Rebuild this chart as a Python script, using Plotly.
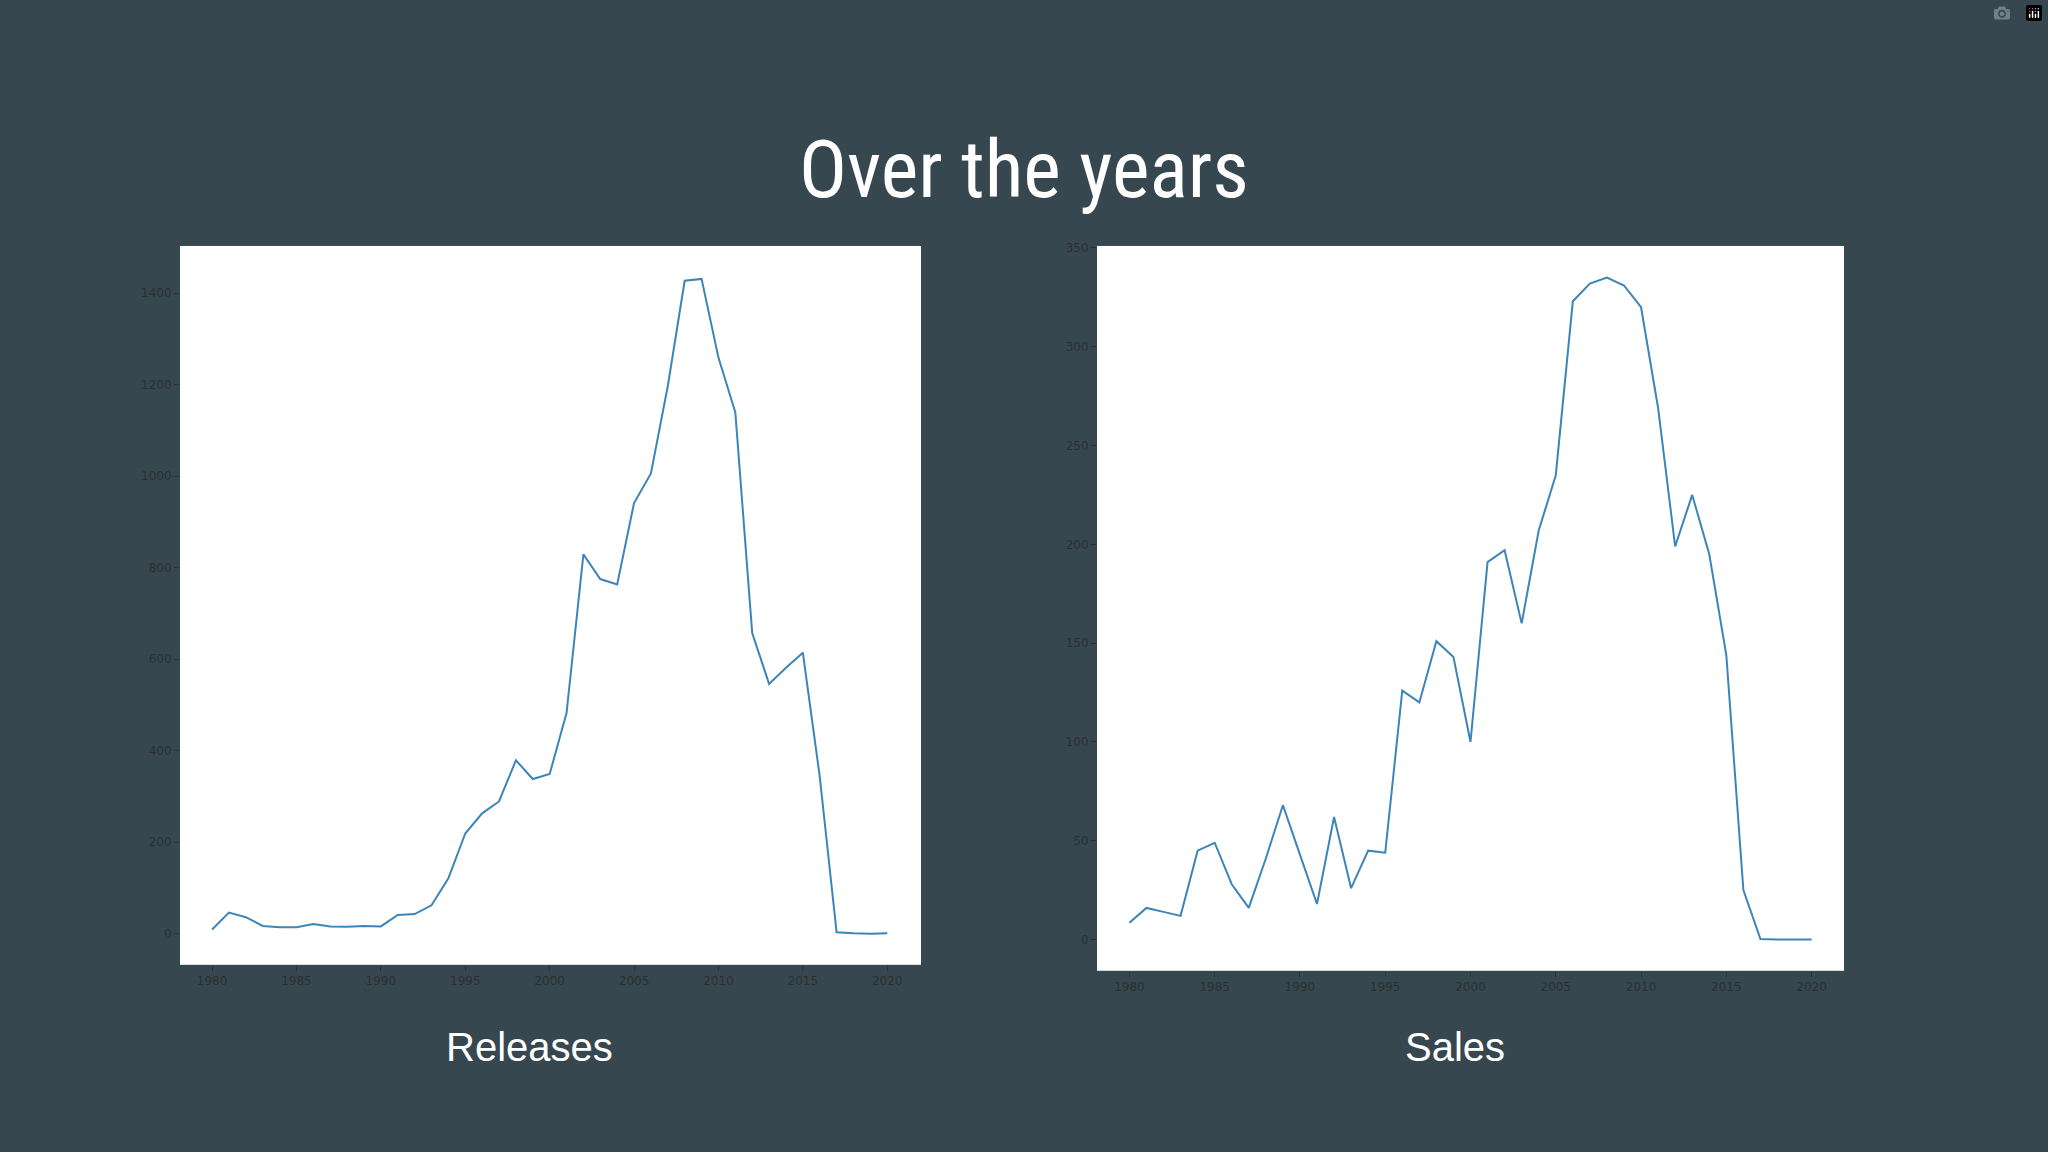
import plotly.graph_objects as go

years = list(range(1980, 2021))
releases = [9, 46, 36, 17, 14, 14, 21, 16, 15, 17, 16, 41, 43, 62, 121, 219, 263, 289, 379, 338,
            349, 482, 829, 775, 763, 941, 1006, 1197, 1427, 1431, 1259, 1139, 657, 546, 581, 614,
            344, 3, 1, 0, 1]
sales = [8.5, 16, 14, 12, 45, 49, 28, 16, 41, 68, 43, 18, 62, 26, 45, 44, 126, 120, 151, 143,
         100, 191, 197, 160, 207, 235, 323, 332, 335, 331, 320, 269, 199, 225, 195, 144,
         25, 0.3, 0, 0, 0]
xticks = [1980, 1985, 1990, 1995, 2000, 2005, 2010, 2015, 2020]

W, H = 2048, 1152
fig = go.Figure()
line = dict(color="#3d85b8", width=2)
fig.add_trace(go.Scatter(x=years, y=releases, mode="lines", line=line, xaxis="x", yaxis="y", showlegend=False))
fig.add_trace(go.Scatter(x=years, y=sales, mode="lines", line=line, xaxis="x2", yaxis="y2", showlegend=False))

tickfont = dict(family="DejaVu Sans", size=12, color="#2a2f33")
ax = dict(showgrid=False, zeroline=False, ticks="outside", ticklen=5, tickcolor="#2a2f33",
          tickfont=tickfont, showline=False, fixedrange=True)
fig.update_layout(
    width=W, height=H, paper_bgcolor="#37474f", plot_bgcolor="white",
    margin=dict(l=0, r=0, t=0, b=0),
    xaxis=dict(ax, domain=[180 / W, 921 / W], range=[1978.1, 2022.0], tickvals=xticks, anchor="y"),
    yaxis=dict(ax, domain=[1 - 964 / H, 1 - 242 / H], range=[-68, 1503],
               tickvals=[0, 200, 400, 600, 800, 1000, 1200, 1400], anchor="x"),
    xaxis2=dict(ax, domain=[1097 / W, 1844 / W], range=[1978.1, 2021.9], tickvals=xticks, anchor="y2"),
    yaxis2=dict(ax, domain=[1 - 970 / H, 1 - 242 / H], range=[-15.8, 351],
                tickvals=[0, 50, 100, 150, 200, 250, 300, 350], anchor="x2"),
    annotations=[
        dict(text="Over the years", x=0.5, y=1 - 166 / H, xref="paper", yref="paper", showarrow=False,
             xanchor="center", yanchor="middle",
             font=dict(family="Roboto Condensed, Liberation Sans Narrow, Roboto", size=80, color="white")),
        dict(text="Releases", x=529 / W, y=1 - 1047 / H, xref="paper", yref="paper", showarrow=False,
             xanchor="center", yanchor="middle",
             font=dict(family="Liberation Sans, Arial", size=40, color="white")),
        dict(text="Sales", x=1455 / W, y=1 - 1047 / H, xref="paper", yref="paper", showarrow=False,
             xanchor="center", yanchor="middle",
             font=dict(family="Liberation Sans, Arial", size=40, color="white")),
    ],
)
fig.write_html("out.html", post_script="document.body.style.margin='0';document.body.style.overflow='hidden';")
